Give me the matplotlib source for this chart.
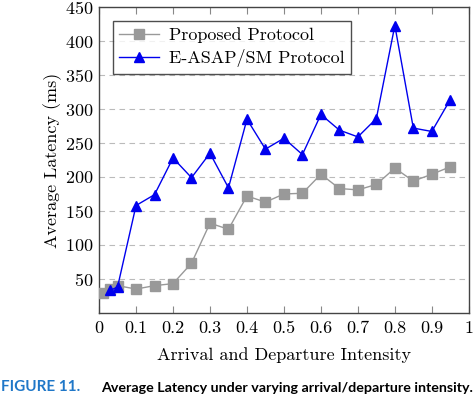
import matplotlib
matplotlib.use("Agg")
import matplotlib.pyplot as plt

x_prop = [0.01, 0.03, 0.05, 0.1, 0.15, 0.2, 0.25, 0.3, 0.35, 0.4, 0.45, 0.5, 0.55, 0.6, 0.65, 0.7, 0.75, 0.8, 0.85, 0.9, 0.95]
y_prop = [29, 35, 40, 35, 40, 43, 73, 132, 123, 172, 163, 175, 176, 204, 183, 181, 189, 213, 194, 204, 215]
x_easap = [0.03, 0.05, 0.1, 0.15, 0.2, 0.25, 0.3, 0.35, 0.4, 0.45, 0.5, 0.55, 0.6, 0.65, 0.7, 0.75, 0.8, 0.85, 0.9, 0.95]
y_easap = [33, 38, 158, 174, 228, 199, 235, 184, 285, 241, 257, 233, 292, 269, 259, 286, 423, 272, 267, 314]
xticks = [0, 0.1, 0.2, 0.3, 0.4, 0.5, 0.6, 0.7, 0.8, 0.9, 1]
xticklabels = ["0", "0.1", "0.2", "0.3", "0.4", "0.5", "0.6", "0.7", "0.8", "0.9", "1"]
yticks = [50, 100, 150, 200, 250, 300, 350, 400, 450]

plt.rcParams['font.family'] = ['cmr10', 'DejaVu Serif']
plt.rcParams['mathtext.fontset'] = 'cm'
plt.rcParams['axes.formatter.use_mathtext'] = True

fig = plt.figure(figsize=(4.74, 3.99), dpi=100)
ax = fig.add_axes([0.209, 0.216, 0.780, 0.766])

ax.plot(x_prop, y_prop, color='#999999', lw=1.0, marker='s', ms=7, mfc='#999999', mec='#999999',
        label='Proposed Protocol', zorder=3)
ax.plot(x_easap, y_easap, color='#0000ee', lw=1.0, marker='^', ms=7, mfc='#0000ee', mec='#0000ee',
        label='E-ASAP/SM Protocol', zorder=4)

ax.set_xlim(0, 1)
ax.set_ylim(0, 450)
ax.set_xticks(xticks)
ax.set_xticklabels(xticklabels)
ax.set_yticks(yticks)
ax.yaxis.grid(True, linestyle=(0, (5, 4)), color='#bbbbbb', lw=0.8)
ax.tick_params(axis='x', direction='in', top=True, bottom=True, length=5, labelsize=13, pad=6, color='#888888')
ax.tick_params(axis='y', direction='in', left=False, right=False, labelsize=13, pad=4)
for s in ax.spines.values():
    s.set_color('#444444')
    s.set_linewidth(1.0)

ax.set_xlabel('Arrival and Departure Intensity', fontsize=13, labelpad=8)
ax.set_ylabel('Average Latency (ms)', fontsize=13, labelpad=2)

leg = ax.legend(loc='upper left', bbox_to_anchor=(0.012, 0.985), fontsize=13, frameon=True, fancybox=False,
                edgecolor='#222222', handlelength=2.2, borderpad=0.35, labelspacing=0.35, handletextpad=0.6)
leg.get_frame().set_linewidth(1.0)

fig.text(0.002, 0.012, 'FIGURE 11.', color='#1f77c8', fontsize=11, fontweight='bold', family='Lato', ha='left', va='bottom')
fig.text(0.997, 0.012, 'Average Latency under varying arrival/departure intensity.', color='black', fontsize=10.3,
         fontweight='bold', family='Lato', ha='right', va='bottom')

fig.savefig('out.png', dpi=100)
